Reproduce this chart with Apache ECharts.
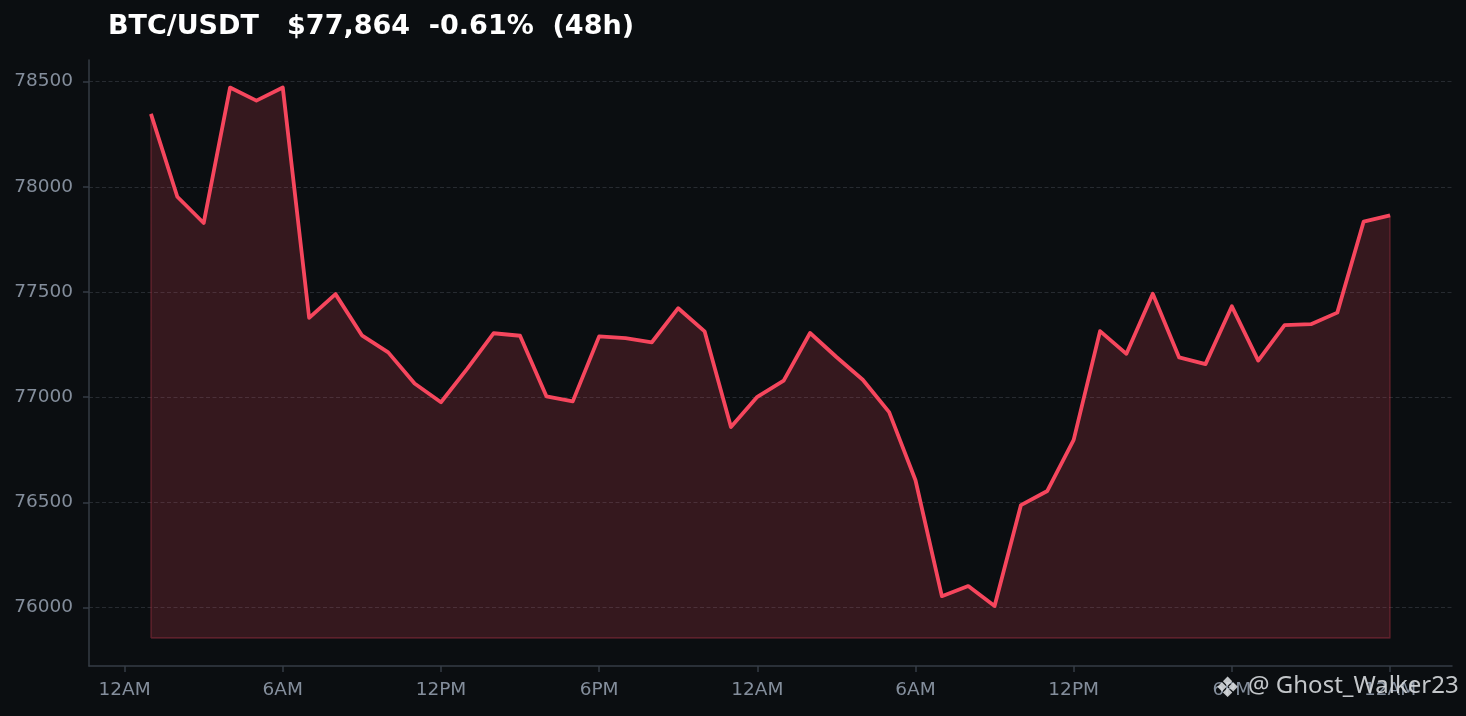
<!DOCTYPE html>
<html>
<head>
<meta charset="utf-8">
<script src="https://cdn.jsdelivr.net/npm/echarts@6/dist/echarts.min.js"></script>
<style>
html,body{margin:0;padding:0;background:#0b0e11;}
#chart{width:1466px;height:716px;}
</style>
</head>
<body>
<div id="chart"></div>
<script>
// hours since the first 12AM
const hours = [1,2,3,4,5,6,7,8,9,10,11,12,13,14,15,16,17,18,19,20,21,22,23,24,
               25,26,27,28,29,30,31,32,33,34,35,36,37,38,39,40,41,42,43,44,45,46,47,48];
const prices = [78347,77953,77828,78472,78410,78472,77377,77490,77294,77213,77065,76976,
                77136,77304,77292,77004,76980,77289,77281,77261,77423,77313,76858,77002,
                77079,77305,77191,77083,76929,76605,76054,76102,76007,76487,76554,76797,
                77314,77206,77492,77189,77157,77432,77174,77343,77347,77402,77835,77864];
const fillBase = 75855;
const xTickValues = [0,6,12,18,24,30,36,42,48];
const xTickLabels = ['12AM','6AM','12PM','6PM','12AM','6AM','12PM','6PM','12AM'];
const yTickValues = [76000,76500,77000,77500,78000,78500];
const titleText = 'BTC/USDT   $77,864  -0.61%  (48h)';
const watermarkText = '@ Ghost_Walker23';

const lineData = hours.map((h,i)=>[h,prices[i]]);
const edgeData = [[hours[0],fillBase]].concat(lineData,
  [[hours[hours.length-1],fillBase],[hours[0],fillBase]]);

const chart = echarts.init(document.getElementById('chart'), null, {renderer:'canvas'});
const axisColor = '#363c45';
const labelColor = '#848e9c';
chart.setOption({
  backgroundColor:'#0b0e11',
  animation:false,
  grid:{left:89,right:14,top:60,bottom:50,containLabel:false},
  xAxis:{
    type:'value', min:-1.35, max:50.35,
    axisLine:{show:true,onZero:false,lineStyle:{color:axisColor,width:1.5}},
    axisTick:{show:true,length:6,customValues:xTickValues,lineStyle:{color:axisColor,width:1.5}},
    axisLabel:{customValues:xTickValues,color:labelColor,fontFamily:'DejaVu Sans',fontSize:18.5,margin:15,
      formatter:(v)=>xTickLabels[xTickValues.indexOf(v)]},
    splitLine:{show:false}
  },
  yAxis:{
    type:'value', min:75722, max:78603,
    axisLine:{show:true,onZero:false,lineStyle:{color:axisColor,width:1.5}},
    axisTick:{show:true,length:6,customValues:yTickValues,lineStyle:{color:axisColor,width:1.5}},
    axisLabel:{customValues:yTickValues,color:labelColor,fontFamily:'DejaVu Sans',fontSize:18.5,margin:16,
      formatter:(v)=>String(v)},
    splitLine:{show:true,lineStyle:{color:'#272b31',type:[4,2.5],width:1}}
  },
  series:[
    {
      type:'line', data:edgeData, symbol:'none', silent:true,
      lineStyle:{color:'rgba(246,70,93,0.22)',width:1.8}, z:2
    },
    {
      type:'line', data:lineData, symbol:'none',
      lineStyle:{color:'#f6465d',width:3.8,join:'round'},
      areaStyle:{color:'rgba(246,70,93,0.18)',opacity:1,origin:fillBase}, z:3
    }
  ],
  graphic:[
    {type:'text',left:108,top:13,style:{text:titleText,fill:'#ffffff',
      font:'bold 27px "DejaVu Sans"'}},
    {type:'text',left:1215,top:676,z:100,style:{text:'❖',fill:'rgba(215,218,222,0.9)',
      font:'28px "DejaVu Sans"'}},
    {type:'text',left:1248,top:674,z:100,style:{text:watermarkText,fill:'rgba(215,218,222,0.9)',
      font:'24px "Noto Sans"'}}
  ]
});
</script>
</body>
</html>
